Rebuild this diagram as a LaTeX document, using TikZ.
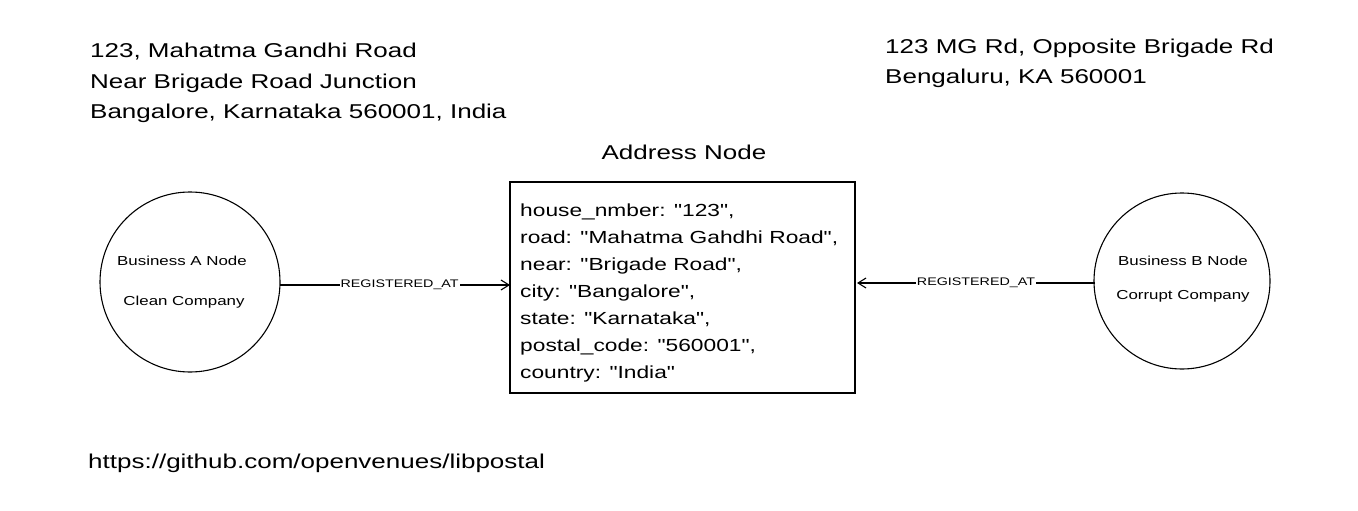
\documentclass[tikz,border=0pt]{standalone}
\usepackage{fontspec}
\setmainfont{Liberation Sans}[FakeStretch=1.3,Ligatures=TeXOff]
\usetikzlibrary{arrows.meta}
\newcommand{\qq}{"}
\begin{document}
\begin{tikzpicture}[x=1pt,y=-1pt,
  big/.style={anchor=west,inner sep=0pt,font=\fontsize{20}{24}\selectfont},
  small/.style={font=\fontsize{13}{15}\selectfont,inner sep=0pt},
  lbl/.style={font=\fontsize{11}{13}\selectfont,inner sep=1pt,fill=white},
  circ/.style={draw,circle,line width=1.1pt},
  arr/.style={-{Straight Barb[length=8pt,width=10pt]},line width=1.1pt}]
\useasboundingbox (0,0) rectangle (1358,511);
\node[big] (t1) at (90,52) {123, Mahatma Gandhi Road};
\node[big] (t2) at (90,83) {Near Brigade Road Junction};
\node[big] (t3) at (90,113) {Bangalore, Karnataka 560001, India};
\node[big] (r1) at (885,48) {123 MG Rd, Opposite Brigade Rd};
\node[big] (r2) at (885,78) {Bengaluru, KA 560001};
\node[big,anchor=center] (title) at (684,152) {Address Node};
\node[draw,line width=1.1pt,minimum width=345pt,minimum height=211pt] (box) at (682.5,287.5) {};
\node[anchor=west,inner sep=0pt,align=left,font=\fontsize{17.5}{27}\selectfont] (content) at (520,293)
 {house\_nmber: \qq123\qq,\\ road: \qq Mahatma Gahdhi Road\qq,\\ near: \qq Brigade Road\qq,\\ city: \qq Bangalore\qq,\\ state: \qq Karnataka\qq,\\ postal\_code: \qq560001\qq,\\ country: \qq India\qq};
\node[circ,minimum size=180pt] (ca) at (190,282) {};
\node[small] (ca1) at (182,261) {Business A Node};
\node[small] (ca2) at (184,302) {Clean Company};
\node[circ,minimum size=176pt] (cb) at (1182,281) {};
\node[small] (cb1) at (1183,261) {Business B Node};
\node[small] (cb2) at (1183,296) {Corrupt Company};
\coordinate (a1) at (280,285);
\coordinate (a2) at (510,285);
\coordinate (b1) at (1095,283);
\coordinate (b2) at (857,283);
\draw[arr] (a1) -- node[lbl,pos=0.52] (la) {REGISTERED\_AT} (a2);
\draw[arr] (b1) -- node[lbl,pos=0.5] (lb) {REGISTERED\_AT} (b2);
\node[big] (url) at (88,463) {https://github.com/openvenues/libpostal};
\end{tikzpicture}
\end{document}
